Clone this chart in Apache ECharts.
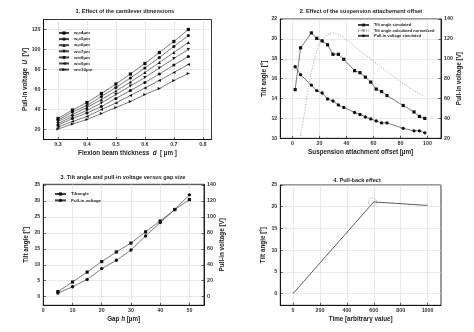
<!DOCTYPE html>
<html>
<head>
<meta charset="utf-8">
<script src="https://cdn.jsdelivr.net/npm/echarts@6/dist/echarts.min.js"></script>
<style>
  html, body { margin: 0; padding: 0; background: #fff; }
  #chart { width: 474px; height: 332px; }
</style>
</head>
<body>
<div id="chart"></div>
<script>
// ---- Panel 1: pull-in voltage vs flexion beam thickness, for several widths ----
const thickness = [0.3, 0.35, 0.4, 0.45, 0.5, 0.55, 0.6, 0.65, 0.7, 0.75];
const widthNames = ['wt=4µm', 'wt=5µm', 'wt=6µm', 'wt=7µm', 'wt=8µm', 'wt=9µm', 'wt=10µm'];
const pullInW4  = [31, 39.5, 47, 56, 65.5, 75.5, 86, 97, 108, 120];
const pullInW5  = [29.5, 37.5, 44, 53, 62, 71.5, 81.5, 92, 103, 114];
const pullInW6  = [28, 35, 42, 50, 58.5, 67.5, 77, 87, 97, 107];
const pullInW7  = [26, 33, 39, 46.5, 55, 63.5, 72, 81.5, 91, 100];
const pullInW8  = [24.5, 31, 36.5, 43, 51, 59, 67, 75.5, 84.5, 93];
const pullInW9  = [22.5, 28, 33, 40, 46.5, 54, 61.5, 69, 77, 85];
const pullInW10 = [20.5, 25.5, 30, 36, 42, 48, 55, 61, 69, 76];
const thicknessTicks = [0.3, 0.4, 0.5, 0.6, 0.7, 0.8];
const voltageTicks1 = [20, 40, 60, 80, 100, 120];

// ---- Panel 2: suspension attachment offset ----
const offset = [2, 6, 14, 18, 22, 26, 30, 34, 38, 46, 50, 54, 58, 62, 66, 70, 82, 90, 94, 98];
const tiltSimulated = [14.9, 19.1, 20.6, 20.05, 19.8, 19.4, 18.45, 18.45, 17.95, 16.8, 16.6, 16.15, 15.65, 14.95, 14.7, 14.3, 13.3, 12.65, 12.2, 12.0];
const pullInSimulated = [92, 84, 73.5, 68, 65.5, 59.5, 57.5, 53.5, 51, 46, 44, 41.5, 39.5, 37.5, 35.5, 35.5, 30, 27.5, 27.5, 25.5];
const calcOffset = [5.5, 8, 12, 15.5, 19, 24, 30, 36, 42, 50, 58, 66, 74, 82, 90, 98];
const tiltCalcNormalized = [10, 11.8, 15.2, 17.5, 19.2, 20.2, 20.6, 20.3, 19.7, 18.8, 18.0, 17.1, 16.3, 15.5, 14.8, 14.2];
const offsetTicks = [0, 20, 40, 60, 80, 100];

// ---- Panel 3: gap size ----
const gap = [5, 10, 15, 20, 25, 30, 35, 40, 45, 50];
const tiltGap = [1.6, 4.6, 7.7, 11.0, 14.0, 16.8, 20.3, 23.7, 27.3, 30.4];
const pullInGap = [4.6, 12.4, 21.6, 35.2, 45.6, 58.4, 76, 92.8, 109.2, 127.6];
const gapTicks = [0, 10, 20, 30, 40, 50];
const tiltTicks3 = [0, 5, 10, 15, 20, 25, 30, 35];
const voltageTicks3 = [0, 20, 40, 60, 80, 100, 120, 140];

// ---- Panel 4: pull-back effect ----
const timeValues = [0, 600, 1000];
const tiltTime = [0, 21.1, 20.3];
const pullBackTime = [590];
const pullBackTilt = [21.1];
const timeTicks = [0, 200, 400, 600, 800, 1000];
const tiltTicks4 = [0, 5, 10, 15, 20, 25];

const FONT = '"Liberation Sans", Arial, sans-serif';
const INK = '#111';
const LINE = '#444';

const chart = echarts.init(document.getElementById('chart'), null, { renderer: 'canvas' });

function nameStyle() {
  const base = { fontSize: 6.3, fontWeight: 'bold', color: '#222', fontFamily: FONT };
  return Object.assign({}, base, {
    rich: {
      b: Object.assign({}, base),
      i: Object.assign({}, base, { fontStyle: 'italic' })
    }
  });
}

function makeAxis(o) {
  const ax = {
    type: 'value',
    gridIndex: o.grid,
    min: o.min,
    max: o.max,
    position: o.position,
    name: o.name,
    nameLocation: 'middle',
    nameGap: o.nameGap,
    nameTextStyle: nameStyle(),
    axisLine: { show: true, onZero: false, lineStyle: { color: '#000', width: 0.8 } },
    axisTick: { show: true, inside: true, length: 2.5, lineStyle: { color: '#000', width: 0.6 } },
    axisLabel: {
      fontSize: 5.3, fontWeight: 'bold', color: '#333', fontFamily: FONT, margin: 3,
      formatter: o.fmt || (v => String(v))
    },
    splitLine: { show: o.split !== false, lineStyle: { color: '#dadada', width: 0.6 } }
  };
  if (o.ticks) {
    ax.axisTick.customValues = o.ticks;
    ax.axisLabel.customValues = o.ticks;
  } else if (o.interval) {
    ax.interval = o.interval;
  }
  return ax;
}

const grids = [
  { left: 43.5, top: 19.5, width: 168, height: 120 },
  { left: 280.3, top: 19, width: 160.7, height: 119.3 },
  { left: 43.3, top: 184.3, width: 160.7, height: 121 },
  { left: 280.3, top: 185, width: 160.7, height: 120.3 }
].map(g => Object.assign(g, { show: true, borderColor: '#000', borderWidth: 0.8, backgroundColor: '#fff' }));

const xAxes = [
  makeAxis({ grid: 0, min: 0.25, max: 0.83, ticks: thicknessTicks, fmt: v => v.toFixed(1),
    name: '{b|Flexion beam thickness  }{i|d}{b|  [ µm ]}', nameGap: 11 }),
  makeAxis({ grid: 1, min: -9, max: 110, ticks: offsetTicks,
    name: 'Suspension attachment offset [µm]', nameGap: 11 }),
  makeAxis({ grid: 2, min: 0, max: 55, ticks: gapTicks,
    name: '{b|Gap }{i|h}{b| [µm]}', nameGap: 11 }),
  makeAxis({ grid: 3, min: -95, max: 1100, ticks: timeTicks,
    name: 'Time [arbitrary value]', nameGap: 11 })
];

const yAxes = [
  makeAxis({ grid: 0, min: 10, max: 130, ticks: voltageTicks1,
    name: '{b|Pull-in voltage  }{i|U}{b|  [V]}', nameGap: 14 }),
  makeAxis({ grid: 1, min: 10, max: 22, interval: 2,
    name: 'Tilt angle [°]', nameGap: 12 }),
  makeAxis({ grid: 1, min: 20, max: 140, interval: 20, position: 'right', split: false,
    name: 'Pull-in voltage [V]', nameGap: 14 }),
  makeAxis({ grid: 2, min: -2.7, max: 35.2, ticks: tiltTicks3,
    name: 'Tilt angle [°]', nameGap: 14 }),
  makeAxis({ grid: 2, min: -10.8, max: 140.8, ticks: voltageTicks3, position: 'right', split: false,
    name: 'Pull-in voltage [V]', nameGap: 14 }),
  makeAxis({ grid: 3, min: -2.7, max: 25, ticks: tiltTicks4,
    name: 'Tilt angle [°]', nameGap: 14 })
];

function pairs(xs, ys) { return xs.map((x, i) => [x, ys[i]]); }

function markerSeries(name, xi, yi, xs, ys, symbol, rotate, size) {
  return {
    type: 'line', name: name, xAxisIndex: xi, yAxisIndex: yi,
    data: pairs(xs, ys),
    symbol: symbol, symbolSize: size || 3.2, symbolRotate: rotate || 0,
    showAllSymbol: true,
    lineStyle: { color: LINE, width: 0.7 },
    itemStyle: { color: INK },
    animation: false
  };
}

const widthSeries = [pullInW4, pullInW5, pullInW6, pullInW7, pullInW8, pullInW9, pullInW10];
const widthSymbols = [['rect', 0], ['circle', 0], ['triangle', 0], ['triangle', 180], ['circle', 0], ['triangle', 90], ['triangle', -90]];

const series = [];
widthSeries.forEach((vals, k) => {
  series.push(markerSeries(widthNames[k], 0, 0, thickness, vals, widthSymbols[k][0], widthSymbols[k][1], 3.2));
});

series.push(markerSeries('Tilt angle simulated', 1, 1, offset, tiltSimulated, 'rect', 0, 3.2));
series.push({
  type: 'line', name: 'Tilt angle calculated normalized', xAxisIndex: 1, yAxisIndex: 1,
  data: pairs(calcOffset, tiltCalcNormalized), smooth: 0.3, symbol: 'none',
  lineStyle: { color: '#9a9a9a', width: 0.9, type: [1, 1.6] },
  itemStyle: { color: '#9a9a9a' },
  animation: false
});
series.push(markerSeries('Pull-in voltage simulated', 1, 2, offset, pullInSimulated, 'circle', 0, 3.4));

series.push(markerSeries('Tiltangle', 2, 3, gap, tiltGap, 'rect', 0, 3.2));
series.push(markerSeries('Pull-in voltage', 2, 4, gap, pullInGap, 'circle', 0, 3.4));

series.push({
  type: 'line', name: 'Pull-back', xAxisIndex: 3, yAxisIndex: 5,
  data: pairs(timeValues, tiltTime), symbol: 'none',
  lineStyle: { color: '#333', width: 0.8 }, animation: false
});
series.push({
  type: 'scatter', name: 'Pull-back point', xAxisIndex: 3, yAxisIndex: 5,
  data: pairs(pullBackTime, pullBackTilt), symbol: 'circle', symbolSize: 8,
  itemStyle: { color: 'rgba(0,0,0,0)', borderColor: '#777', borderWidth: 0.6, borderType: [1.5, 1] },
  animation: false
});

const legendText = { fontSize: 4.4, color: '#222', fontFamily: FONT, fontWeight: 'bold' };

const option = {
  backgroundColor: '#fff',
  animation: false,
  title: [
    { text: '1. Effect of the cantilever dimensions', left: 125, top: 8 },
    { text: '2. Effect of the suspension attachement offset', left: 361, top: 8 },
    { text: '3. Tilt angle and pull-in voltage versus gap size', left: 123, top: 174 },
    { text: '4. Pull-back effect', left: 357, top: 177 }
  ].map(t => Object.assign(t, {
    textAlign: 'center', padding: 0,
    textStyle: { fontSize: 5.6, fontWeight: 'bold', color: '#222', fontFamily: FONT }
  })),
  legend: [
    {
      data: widthNames, orient: 'vertical', left: 58, top: 31,
      itemWidth: 10, itemHeight: 4, itemGap: 1.6, padding: 0,
      textStyle: Object.assign({}, legendText, {
        rich: {
          a: Object.assign({}, legendText),
          s: Object.assign({}, legendText, { fontSize: 3.2, padding: [2, 0, 0, 0] })
        }
      }),
      formatter: n => '{a|w}{s|t}{a|=' + n.split('=')[1] + '}'
    },
    {
      data: ['Tilt angle simulated', 'Tilt angle calculated normalized', 'Pull-in voltage simulated'],
      orient: 'vertical', left: 357, top: 23,
      itemWidth: 11, itemHeight: 3.5, itemGap: 1.4, padding: 0,
      textStyle: Object.assign({}, legendText, { fontSize: 4.0 })
    },
    {
      data: ['Tiltangle', 'Pull-in voltage'],
      orient: 'vertical', left: 54, top: 192,
      itemWidth: 11, itemHeight: 4, itemGap: 2.4, padding: 0,
      textStyle: Object.assign({}, legendText)
    }
  ],
  grid: grids,
  xAxis: xAxes,
  yAxis: yAxes,
  series: series
};

chart.setOption(option);
</script>
</body>
</html>
